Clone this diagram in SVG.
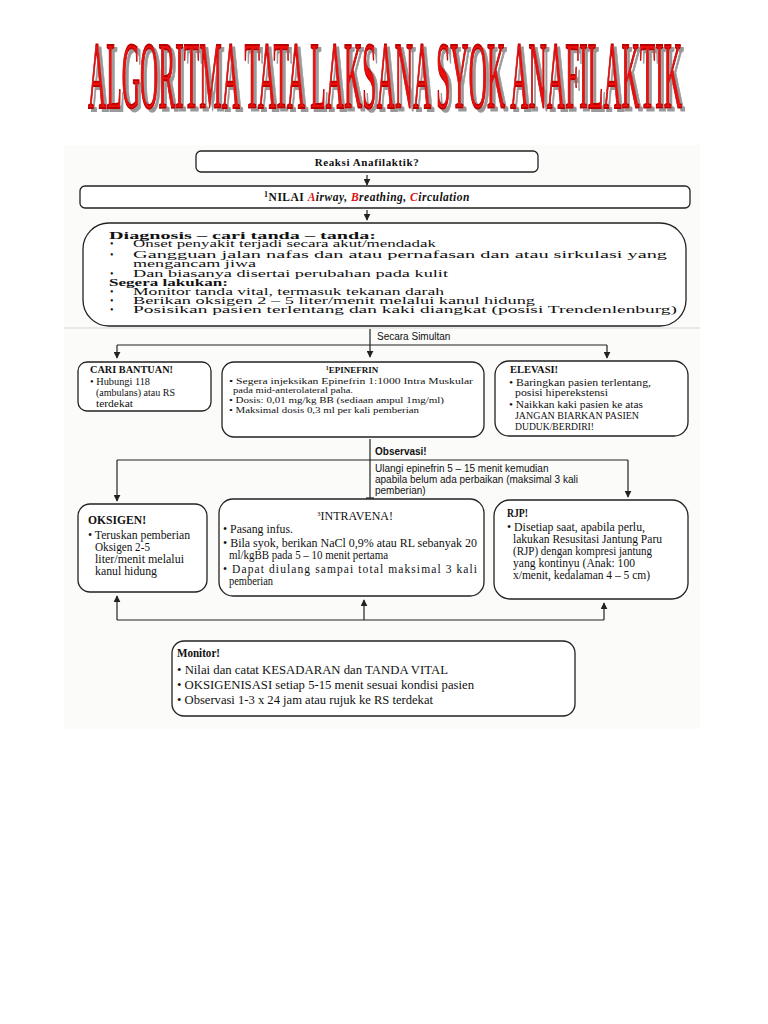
<svg xmlns="http://www.w3.org/2000/svg" width="768" height="1024" viewBox="0 0 768 1024">
<defs>
<style>
.box{fill:#fff;stroke:#222;stroke-width:1.3}
.ln{stroke:#222;stroke-width:1.2;fill:none}
.sr{font-family:"Liberation Serif","Times New Roman",serif;fill:#111}
.ss{font-family:"Liberation Sans",Arial,sans-serif;fill:#111}
.b{font-weight:bold}
.t{font-size:10px}
.s{font-size:9px}
.m{font-size:11.5px}
.r{fill:#d11}
</style>
<filter id="shadow" x="-5%" y="-20%" width="110%" height="150%">
<feDropShadow dx="3" dy="3" stdDeviation="0.6" flood-color="#999" flood-opacity="1"/>
</filter>
<marker id="ah" viewBox="0 0 10 10" refX="9" refY="5" markerWidth="7" markerHeight="7" orient="auto" markerUnits="userSpaceOnUse">
<path d="M0,0 L10,5 L0,10 z" fill="#222"/>
</marker>
</defs>
<rect width="768" height="1024" fill="#fff"/>
<rect x="64" y="145" width="636" height="584" fill="#fbfbfa"/>
<line x1="64" y1="328" x2="700" y2="328" stroke="#e2e2e2" stroke-width="1.5"/>

<g id="title" filter="url(#shadow)">
<text transform="translate(88,108) scale(0.3,1)" x="0" y="0" font-family="Liberation Serif,serif" font-size="96" fill="#ee1111" stroke="#b00" stroke-width="2" textLength="1980" lengthAdjust="spacingAndGlyphs">ALGORITMA TATA LAKSANA SYOK ANAFILAKTIK</text>
</g>

<g id="connectors">
<line class="ln" x1="367" y1="175" x2="367" y2="185" marker-end="url(#ah)"/>
<line class="ln" x1="367" y1="210" x2="367" y2="220" marker-end="url(#ah)"/>
<line class="ln" x1="370" y1="329" x2="370" y2="357" marker-end="url(#ah)"/>
<line class="ln" x1="117" y1="345" x2="607" y2="345"/>
<line class="ln" x1="117" y1="345" x2="117" y2="358" marker-end="url(#ah)"/>
<line class="ln" x1="607" y1="345" x2="607" y2="358" marker-end="url(#ah)"/>
<line class="ln" x1="370" y1="439" x2="370" y2="498"/>
<line class="ln" x1="366" y1="498" x2="374" y2="498"/>
<line class="ln" x1="117" y1="460" x2="628" y2="460"/>
<line class="ln" x1="117" y1="460" x2="117" y2="501" marker-end="url(#ah)"/>
<line class="ln" x1="628" y1="460" x2="628" y2="497" marker-end="url(#ah)"/>
<line class="ln" x1="117" y1="620" x2="604" y2="620"/>
<line class="ln" x1="117" y1="620" x2="117" y2="596" marker-end="url(#ah)"/>
<line class="ln" x1="364" y1="620" x2="364" y2="600" marker-end="url(#ah)"/>
<line class="ln" x1="604" y1="620" x2="604" y2="603" marker-end="url(#ah)"/>
<text class="ss" x="377" y="340" font-size="10">Secara Simultan</text>
<text class="ss b" x="375" y="455" font-size="10">Observasi!</text>
<text class="ss" x="375" y="472" font-size="10">Ulangi epinefrin 5 – 15 menit kemudian</text>
<text class="ss" x="375" y="483" font-size="10">apabila belum ada perbaikan (maksimal 3 kali</text>
<text class="ss" x="375" y="494" font-size="10">pemberian)</text>
</g>

<g id="reaksi">
<rect class="box" x="196" y="151" width="342" height="21" rx="5"/>
<text class="sr b" x="367" y="166" font-size="11" text-anchor="middle" letter-spacing="0.6">Reaksi Anafilaktik?</text>
</g>

<g id="nilai">
<rect class="box" x="80" y="186" width="610" height="22" rx="5"/>
<text class="sr b" x="367" y="201" font-size="11.5" text-anchor="middle" letter-spacing="0.5"><tspan font-size="8" dy="-4">1</tspan><tspan dy="4">NILAI </tspan><tspan font-style="italic" class="r">A</tspan><tspan font-style="italic">irway, </tspan><tspan font-style="italic" class="r">B</tspan><tspan font-style="italic">reathing, </tspan><tspan font-style="italic" class="r">C</tspan><tspan font-style="italic">irculation</tspan></text>
</g>

<g id="diagnosis">
<rect class="box" x="83" y="223" width="603" height="103" rx="26"/>
<g class="sr t">
<text class="b" x="109" y="239" textLength="267" lengthAdjust="spacingAndGlyphs">Diagnosis – cari tanda – tanda:</text>
<text x="110" y="247">•</text>
<text x="133" y="247" textLength="303" lengthAdjust="spacingAndGlyphs">Onset penyakit terjadi secara akut/mendadak</text>
<text x="110" y="258">•</text>
<text x="133" y="258" textLength="534" lengthAdjust="spacingAndGlyphs">Gangguan jalan nafas dan atau pernafasan dan atau sirkulasi yang</text>
<text x="133" y="267" textLength="123" lengthAdjust="spacingAndGlyphs">mengancam jiwa</text>
<text x="110" y="277">•</text>
<text x="133" y="277" textLength="315" lengthAdjust="spacingAndGlyphs">Dan biasanya disertai perubahan pada kulit</text>
<text class="b" x="109" y="286" textLength="119" lengthAdjust="spacingAndGlyphs">Segera lakukan:</text>
<text x="110" y="295">•</text>
<text x="133" y="295" textLength="311" lengthAdjust="spacingAndGlyphs">Monitor tanda vital, termasuk tekanan darah</text>
<text x="110" y="304">•</text>
<text x="133" y="304" textLength="402" lengthAdjust="spacingAndGlyphs">Berikan oksigen 2 – 5 liter/menit melalui kanul hidung</text>
<text x="110" y="313">•</text>
<text x="133" y="313" textLength="544" lengthAdjust="spacingAndGlyphs">Posisikan pasien terlentang dan kaki diangkat (posisi Trendenlenburg)</text>
</g>
</g>

<g id="cari-bantuan">
<rect class="box" x="78" y="362" width="133" height="49" rx="9"/>
<g class="sr" font-size="10">
<text class="b" x="90" y="373" textLength="83" lengthAdjust="spacingAndGlyphs">CARI BANTUAN!</text>
<text x="90" y="385" textLength="60" lengthAdjust="spacingAndGlyphs">• Hubungi 118</text>
<text x="96" y="396" textLength="79" lengthAdjust="spacingAndGlyphs">(ambulans) atau RS</text>
<text x="96" y="407" textLength="37" lengthAdjust="spacingAndGlyphs">terdekat</text>
</g>
</g>

<g id="epinefrin">
<rect class="box" x="222" y="362" width="262" height="75" rx="12"/>
<g class="sr s">
<text class="b" x="352" y="373" text-anchor="middle"><tspan font-size="6" dy="-3">1</tspan><tspan dy="3">EPINEFRIN</tspan></text>
<text x="229" y="384" textLength="244" lengthAdjust="spacingAndGlyphs">• Segera injeksikan Epinefrin 1:1000 Intra Muskular</text>
<text x="233" y="393" textLength="120" lengthAdjust="spacingAndGlyphs">pada mid-anterolateral paha.</text>
<text x="229" y="403" textLength="215" lengthAdjust="spacingAndGlyphs">• Dosis: 0,01 mg/kg BB (sediaan ampul 1mg/ml)</text>
<text x="229" y="413" textLength="190" lengthAdjust="spacingAndGlyphs">• Maksimal dosis 0,3 ml per kali pemberian</text>
</g>
</g>

<g id="elevasi">
<rect class="box" x="495" y="361" width="193" height="75" rx="14"/>
<g class="sr" font-size="10">
<text class="b" x="510" y="373" textLength="48" lengthAdjust="spacingAndGlyphs">ELEVASI!</text>
<text x="509" y="386" textLength="142" lengthAdjust="spacingAndGlyphs">• Baringkan pasien terlentang,</text>
<text x="515" y="396" textLength="93" lengthAdjust="spacingAndGlyphs">posisi hiperekstensi</text>
<text x="509" y="408" textLength="134" lengthAdjust="spacingAndGlyphs">• Naikkan kaki pasien ke atas</text>
<text x="515" y="419" textLength="124" lengthAdjust="spacingAndGlyphs">JANGAN BIARKAN PASIEN</text>
<text x="515" y="430" textLength="79" lengthAdjust="spacingAndGlyphs">DUDUK/BERDIRI!</text>
</g>
</g>

<g id="oksigen">
<rect class="box" x="78" y="504" width="129" height="88" rx="12"/>
<g class="sr m">
<text class="b" x="88" y="524" textLength="58" lengthAdjust="spacingAndGlyphs">OKSIGEN!</text>
<text x="88" y="539" textLength="102" lengthAdjust="spacingAndGlyphs">• Teruskan pemberian</text>
<text x="95" y="551" textLength="55" lengthAdjust="spacingAndGlyphs">Oksigen 2-5</text>
<text x="95" y="563" textLength="89" lengthAdjust="spacingAndGlyphs">liter/menit melalui</text>
<text x="95" y="575" textLength="62" lengthAdjust="spacingAndGlyphs">kanul hidung</text>
</g>
</g>

<g id="intravena">
<rect class="box" x="219" y="499" width="265" height="97" rx="14"/>
<g class="sr m">
<text x="355" y="520" text-anchor="middle" font-size="12"><tspan font-size="7" dy="-4">3</tspan><tspan dy="4">INTRAVENA!</tspan></text>
<text x="223" y="533" textLength="70" lengthAdjust="spacingAndGlyphs">• Pasang infus.</text>
<text x="223" y="547" textLength="254" lengthAdjust="spacingAndGlyphs">• Bila syok, berikan NaCl 0,9% atau RL sebanyak 20</text>
<text x="229" y="559" textLength="159" lengthAdjust="spacingAndGlyphs">ml/kgBB pada 5 – 10 menit pertama</text>
<text x="223" y="573" textLength="254" lengthAdjust="spacing">• Dapat diulang sampai total maksimal 3 kali</text>
<text x="229" y="585" textLength="44" lengthAdjust="spacingAndGlyphs">pemberian</text>
</g>
</g>

<g id="rjp">
<rect class="box" x="494" y="500" width="194" height="99" rx="16"/>
<g class="sr m">
<text class="b" x="507" y="517" textLength="21" lengthAdjust="spacingAndGlyphs">RJP!</text>
<text x="507" y="531" textLength="138" lengthAdjust="spacingAndGlyphs">• Disetiap saat, apabila perlu,</text>
<text x="513" y="543" textLength="149" lengthAdjust="spacingAndGlyphs">lakukan Resusitasi Jantung Paru</text>
<text x="513" y="555" textLength="139" lengthAdjust="spacingAndGlyphs">(RJP) dengan kompresi jantung</text>
<text x="513" y="567" textLength="122" lengthAdjust="spacingAndGlyphs">yang kontinyu (Anak: 100</text>
<text x="513" y="579" textLength="137" lengthAdjust="spacingAndGlyphs">x/menit, kedalaman 4 – 5 cm)</text>
</g>
</g>

<g id="monitor">
<rect class="box" x="172" y="641" width="403" height="75" rx="12"/>
<g class="sr" font-size="12.5">
<text class="b" x="177" y="657" textLength="43" lengthAdjust="spacingAndGlyphs">Monitor!</text>
<text x="177" y="674" textLength="271" lengthAdjust="spacingAndGlyphs">• Nilai dan catat KESADARAN dan TANDA VITAL</text>
<text x="177" y="689" textLength="297" lengthAdjust="spacingAndGlyphs">• OKSIGENISASI setiap 5-15 menit sesuai kondisi pasien</text>
<text x="177" y="704" textLength="256" lengthAdjust="spacingAndGlyphs">• Observasi 1-3 x 24 jam atau rujuk ke RS terdekat</text>
</g>
</g>
</svg>
